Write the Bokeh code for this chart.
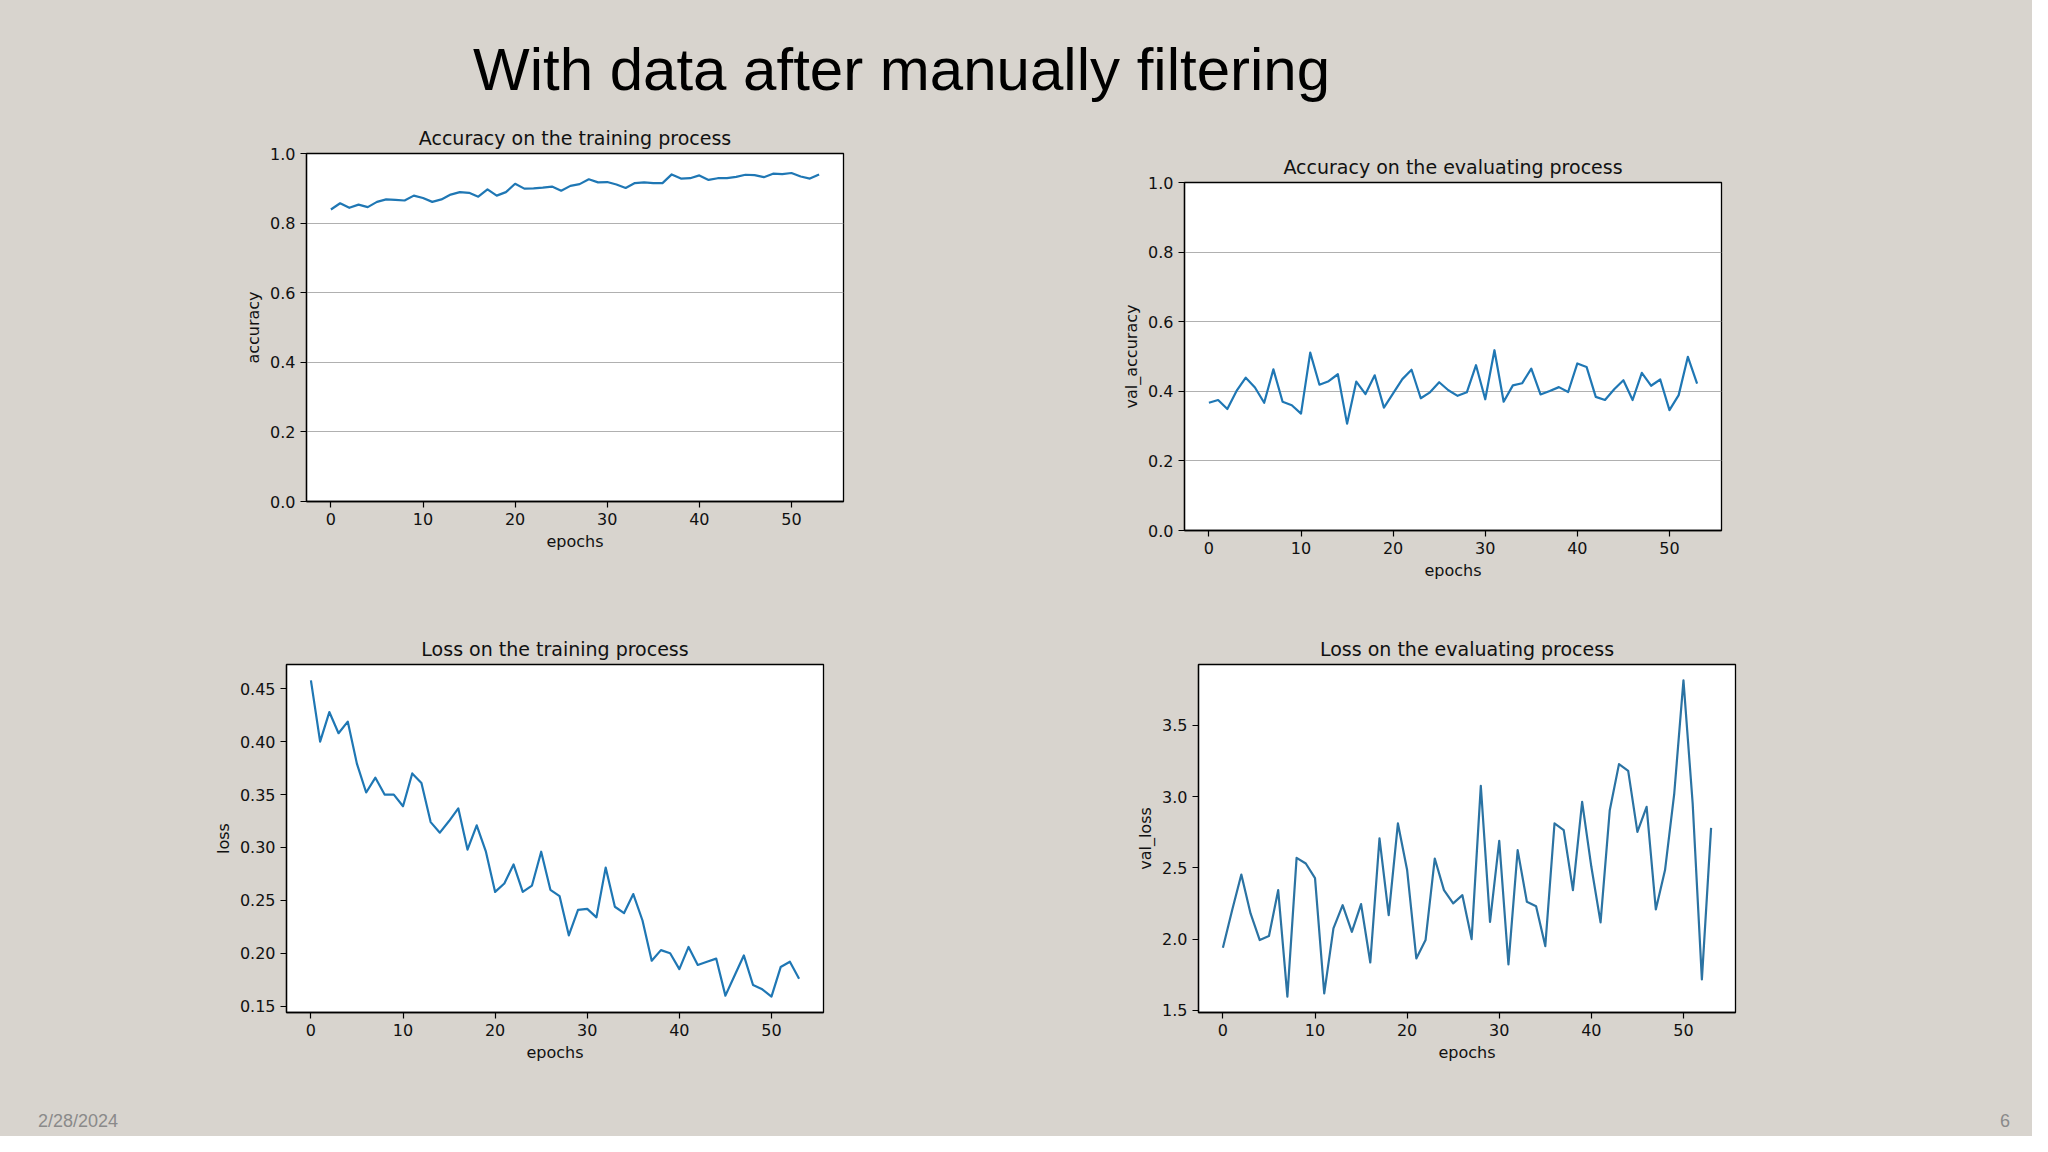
from bokeh.plotting import figure
from bokeh.layouts import column, row
from bokeh.models import Range1d, FixedTicker, PrintfTickFormatter, Div, Spacer
from bokeh.embed import file_html
from bokeh.resources import INLINE

# ---------------- data ----------------
epochs = list(range(54))

train_accuracy = [0.839, 0.857, 0.844, 0.853, 0.846, 0.861, 0.868, 0.867, 0.865, 0.879,
                  0.872, 0.861, 0.868, 0.882, 0.889, 0.887, 0.876, 0.897, 0.879, 0.889,
                  0.913, 0.899, 0.900, 0.902, 0.905, 0.893, 0.907, 0.912, 0.926, 0.917,
                  0.918, 0.911, 0.901, 0.915, 0.917, 0.915, 0.915, 0.940, 0.928, 0.929,
                  0.937, 0.924, 0.929, 0.929, 0.933, 0.939, 0.938, 0.932, 0.942, 0.941,
                  0.944, 0.934, 0.928, 0.940]

val_accuracy = [0.367, 0.375, 0.349, 0.401, 0.439, 0.411, 0.367, 0.463, 0.370, 0.360,
                0.336, 0.511, 0.419, 0.429, 0.449, 0.307, 0.428, 0.392, 0.446, 0.353,
                0.394, 0.435, 0.462, 0.380, 0.397, 0.426, 0.403, 0.387, 0.397, 0.475,
                0.377, 0.518, 0.370, 0.417, 0.423, 0.465, 0.391, 0.401, 0.412, 0.398,
                0.480, 0.470, 0.384, 0.375, 0.406, 0.432, 0.375, 0.453, 0.416, 0.434,
                0.346, 0.389, 0.499, 0.422]

train_loss = [0.458, 0.400, 0.428, 0.408, 0.419, 0.379, 0.352, 0.366, 0.350, 0.350,
              0.339, 0.370, 0.361, 0.324, 0.314, 0.325, 0.337, 0.298, 0.321, 0.296,
              0.258, 0.266, 0.284, 0.258, 0.264, 0.296, 0.260, 0.254, 0.217, 0.241,
              0.242, 0.234, 0.281, 0.244, 0.238, 0.256, 0.231, 0.193, 0.203, 0.200,
              0.185, 0.206, 0.189, 0.192, 0.195, 0.160, 0.179, 0.198, 0.170, 0.166,
              0.159, 0.187, 0.192, 0.176]

val_loss = [1.939, 2.203, 2.453, 2.180, 1.993, 2.021, 2.343, 1.596, 2.570, 2.530,
            2.428, 1.619, 2.075, 2.238, 2.051, 2.245, 1.836, 2.706, 2.168, 2.811,
            2.484, 1.864, 1.993, 2.565, 2.343, 2.250, 2.308, 2.000, 3.075, 2.121,
            2.689, 1.822, 2.624, 2.262, 2.231, 1.951, 2.811, 2.764, 2.343, 2.963,
            2.507, 2.117, 2.904, 3.227, 3.180, 2.752, 2.928, 2.208, 2.484, 3.021,
            3.815, 2.951, 1.717, 2.780]

x_ticks = [0, 10, 20, 30, 40, 50]
acc_ticks = [0.0, 0.2, 0.4, 0.6, 0.8, 1.0]
loss_ticks = [0.15, 0.20, 0.25, 0.30, 0.35, 0.40, 0.45]
val_loss_ticks = [1.5, 2.0, 2.5, 3.0, 3.5]

slide_title = "With data after manually filtering"
slide_date = "2/28/2024"
slide_number = "6"

# ---------------- styling ----------------
SLIDE_BG = "#d8d4ce"
FONT = "DejaVu Sans"
TXT = "#111111"
B_LEFT, B_RIGHT, B_TOP, B_BOTTOM = 90, 20, 50, 60
FRAME_W, FRAME_H = 537, 348


def mpl_range(vals):
    lo, hi = min(vals), max(vals)
    pad = 0.05 * (hi - lo)
    return Range1d(lo - pad, hi + pad)


def make_fig(title, xlabel, ylabel, y, y_range, yticks, yfmt, grid, color):
    p = figure(width=B_LEFT + FRAME_W + B_RIGHT, height=B_TOP + FRAME_H + B_BOTTOM,
               x_range=mpl_range(epochs), y_range=y_range,
               output_backend="svg", toolbar_location=None, tools="",
               min_border_left=B_LEFT, min_border_right=B_RIGHT,
               min_border_top=B_TOP, min_border_bottom=B_BOTTOM)
    p.background_fill_color = "white"
    p.border_fill_color = SLIDE_BG
    p.outline_line_color = "black"
    p.outline_line_width = 1.3
    p.outline_line_alpha = 1.0

    p.title.text = title
    p.title.align = "center"
    p.title.text_font = FONT
    p.title.text_font_size = "19px"
    p.title.text_font_style = "normal"
    p.title.text_color = TXT
    p.title.standoff = 10

    for ax in (p.xaxis[0], p.yaxis[0]):
        ax.axis_line_color = "black"
        ax.axis_line_width = 1.3
        ax.major_tick_line_color = "black"
        ax.major_tick_line_width = 1.2
        ax.major_tick_out = 6
        ax.major_tick_in = 0
        ax.minor_tick_out = 0
        ax.minor_tick_in = 0
        ax.major_label_text_font = FONT
        ax.major_label_text_font_size = "16px"
        ax.major_label_text_color = TXT
        ax.major_label_standoff = 5
        ax.axis_label_text_font = FONT
        ax.axis_label_text_font_size = "16px"
        ax.axis_label_text_font_style = "normal"
        ax.axis_label_text_color = TXT

    p.xaxis.axis_label = xlabel
    p.xaxis.ticker = FixedTicker(ticks=x_ticks)
    p.xaxis.axis_label_standoff = 4
    p.yaxis.axis_label = ylabel
    p.yaxis.ticker = FixedTicker(ticks=yticks)
    p.yaxis.formatter = PrintfTickFormatter(format=yfmt)
    p.yaxis.axis_label_standoff = 4

    p.xgrid.visible = False
    p.ygrid.visible = grid
    p.ygrid.grid_line_color = "#b0b0b0"
    p.ygrid.grid_line_width = 1.2

    p.line(epochs, y, line_color=color, line_width=2.2, line_join="round")
    return p


f1 = make_fig("Accuracy on the training process", "epochs", "accuracy",
              train_accuracy, Range1d(0, 1), acc_ticks, "%.1f", True, "#1f77b4")
f2 = make_fig("Accuracy on the evaluating process", "epochs", "val_accuracy",
              val_accuracy, Range1d(0, 1), acc_ticks, "%.1f", True, "#1f77b4")
f3 = make_fig("Loss on the training process", "epochs", "loss",
              train_loss, mpl_range(train_loss), loss_ticks, "%.2f", False, "#1f77b4")
f4 = make_fig("Loss on the evaluating process", "epochs", "val_loss",
              val_loss, mpl_range(val_loss), val_loss_ticks, "%.1f", False, "#2b73a3")

FONT_SLIDE = "'Liberation Sans', Arial, sans-serif"
title_div = Div(text=slide_title, width=1000, height=67, margin=0,
                styles={"font-family": FONT_SLIDE, "font-size": "60px", "color": "#000000",
                        "white-space": "nowrap", "line-height": "67px"})
date_div = Div(text=slide_date, width=200, height=21, margin=0,
               styles={"font-family": FONT_SLIDE, "font-size": "18px", "color": "#8a8a8a",
                       "white-space": "nowrap", "line-height": "21px"})
num_div = Div(text=slide_number, width=20, height=21, margin=0,
              styles={"font-family": FONT_SLIDE, "font-size": "18px", "color": "#8a8a8a",
                      "white-space": "nowrap", "line-height": "21px"})

layout = column(
    Spacer(height=36, width=10),
    row(Spacer(width=473, height=67), title_div),
    row(Spacer(width=216, height=10), column(f1),
        Spacer(width=231, height=10), column(Spacer(height=29, width=10), f2)),
    Spacer(height=24, width=10),
    row(Spacer(width=196, height=10), column(f3),
        Spacer(width=265, height=10), column(f4)),
    Spacer(height=39, width=10),
    row(Spacer(width=38, height=21), date_div, Spacer(width=1762, height=21), num_div),
    width=2032, height=1136,
    styles={"background-color": SLIDE_BG},
)

html = file_html(layout, INLINE)
html = html.replace("<body>", '<body style="background-color:%s">' % SLIDE_BG, 1)
open("out.html", "w").write(html)
